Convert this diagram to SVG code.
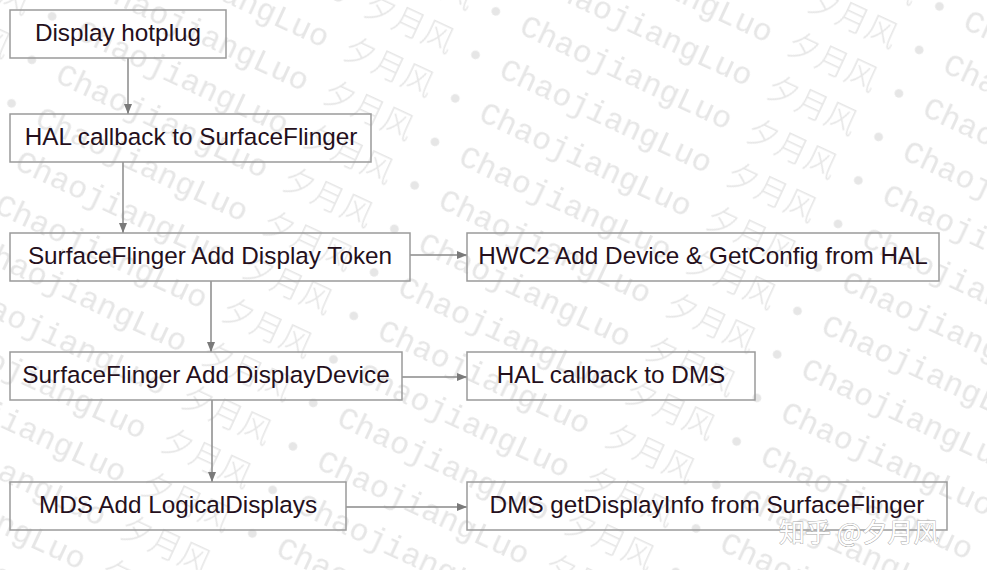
<svg xmlns="http://www.w3.org/2000/svg" width="987" height="570" viewBox="0 0 987 570">
<style>
.box{fill:none;stroke:#9a9a9a;stroke-width:1.5}
.lbl{font-family:"Liberation Sans",Arial,sans-serif;font-size:24.3px;fill:#25101c;text-anchor:middle}
.edge{fill:none;stroke:#8a8a8a;stroke-width:1.5}
.wm{font-family:"Liberation Mono","DejaVu Sans Mono",monospace;font-size:32px;fill:#e6e6e6}
.wmc{font-family:"Noto Sans CJK SC",sans-serif;font-weight:300}
.logo{font-family:"Noto Sans CJK SC",sans-serif;font-size:26px;fill:#ffffff;stroke:#a8a8a8;stroke-width:0.9;paint-order:stroke}
</style>
<defs>
<marker id="arr" markerUnits="userSpaceOnUse" markerWidth="10" markerHeight="8" refX="10" refY="4" orient="auto">
<path d="M0,0 L10,4 L0,8 z" fill="#7a7a7a"/>
</marker>
<pattern id="wmp" patternUnits="userSpaceOnUse" width="400" height="48" patternTransform="translate(498,-16) rotate(25)">
<text class="wm" x="0" y="36">• ChaojiangLuo <tspan class="wmc">夕月风</tspan></text>
</pattern>
</defs>
<rect width="987" height="570" fill="#ffffff"/>
<rect id="watermark" width="987" height="570" fill="url(#wmp)"/>
<g id="connectors">
<path class="edge" d="M128,58 V114" marker-end="url(#arr)"/>
<path class="edge" d="M123,162 V233" marker-end="url(#arr)"/>
<path class="edge" d="M211,281 V352" marker-end="url(#arr)"/>
<path class="edge" d="M212,400 V482" marker-end="url(#arr)"/>
<path class="edge" d="M410,255 H467" marker-end="url(#arr)"/>
<path class="edge" d="M402,377 H467" marker-end="url(#arr)"/>
<path class="edge" d="M346,507 H467" marker-end="url(#arr)"/>
</g>
<g id="n1"><rect class="box" x="10" y="10" width="216" height="48"/><text class="lbl" x="118" y="40.5">Display hotplug</text></g>
<g id="n2"><rect class="box" x="10" y="114" width="361" height="48"/><text class="lbl" x="191" y="144.5">HAL callback to SurfaceFlinger</text></g>
<g id="n3"><rect class="box" x="10" y="233" width="400" height="48"/><text class="lbl" x="210" y="263.5">SurfaceFlinger Add Display Token</text></g>
<g id="n4"><rect class="box" x="10" y="352" width="392" height="48"/><text class="lbl" x="206" y="382.5">SurfaceFlinger Add DisplayDevice</text></g>
<g id="n5"><rect class="box" x="467" y="233" width="472" height="48"/><text class="lbl" x="703" y="263.5">HWC2 Add Device &amp; GetConfig from HAL</text></g>
<g id="n6"><rect class="box" x="467" y="352" width="288" height="48"/><text class="lbl" x="611" y="382.5">HAL callback to DMS</text></g>
<g id="n7"><rect class="box" x="10" y="482" width="336" height="48"/><text class="lbl" x="178" y="512.5">MDS Add LogicalDisplays</text></g>
<g id="n8"><rect class="box" x="467" y="482" width="480" height="48"/><text class="lbl" x="707" y="512.5">DMS getDisplayInfo from SurfaceFlinger</text></g>
<text class="logo" x="779" y="542">知乎 @夕月风</text>
</svg>
